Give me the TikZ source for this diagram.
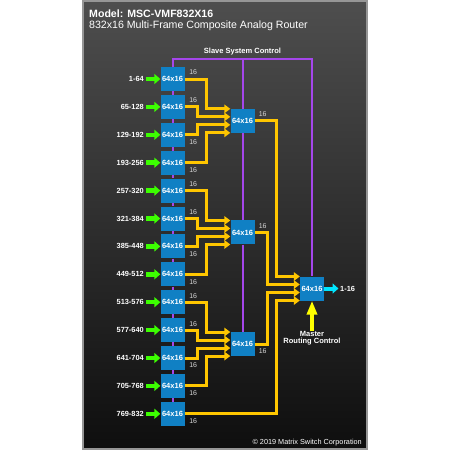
\documentclass[tikz,border=0pt]{standalone}
\usepackage{fontspec}
\setmainfont{Liberation Sans}
\usetikzlibrary{arrows.meta,calc}
\definecolor{bx}{RGB}{16,128,196}
\definecolor{yl}{RGB}{255,198,0}
\definecolor{gr}{RGB}{60,255,0}
\definecolor{cy}{RGB}{0,230,255}
\definecolor{pp}{RGB}{165,70,235}
\definecolor{my}{RGB}{255,255,0}
\definecolor{pantop}{RGB}{78,78,78}
\definecolor{panbot}{RGB}{14,14,14}
\definecolor{panbd}{RGB}{150,150,150}
\definecolor{numtx}{RGB}{215,215,215}
\tikzset{
  bxs/.style={fill=bx, minimum width=24pt, minimum height=24pt, inner sep=0pt, text=white, font=\bfseries\fontsize{7.5}{8}\selectfont},
  lbl/.style={text=white, inner sep=0pt, font=\bfseries\fontsize{7.4}{8}\selectfont},
  num/.style={text=numtx, inner sep=0pt, font=\fontsize{7}{8}\selectfont},
  ylw/.style={draw=yl, line width=3pt, -{Triangle[length=6pt,width=8.5pt]}},
  ylwn/.style={draw=yl, line width=3pt},
  garrow/.style={draw=gr, line width=4.5pt, -{Triangle[length=6pt,width=10pt]}},
  carrow/.style={draw=cy, line width=4pt, -{Triangle[length=6pt,width=10pt]}},
  marrow/.style={draw=my, line width=4pt, -{Triangle[length=14pt,width=10pt]}},
  ppl/.style={draw=pp, line width=2pt},
}
\begin{document}
\begin{tikzpicture}[x=1pt,y=-1pt]
\useasboundingbox (0,0) rectangle (450,450);
\shade[top color=pantop, bottom color=panbot] (83,1) rectangle (367,449);
\draw[panbd, line width=2pt] (83,1) rectangle (367,449);

\node[anchor=base west, text=white, inner sep=0pt, font=\bfseries\fontsize{10.6}{12}\selectfont] (title) at (89,17) {Model: MSC-VMF832X16};
\node[anchor=base west, text=white, inner sep=0pt, font=\fontsize{10.6}{12}\selectfont] (sub) at (89,28.5) {832x16 Multi-Frame Composite Analog Router};
\node[lbl, anchor=base, font=\bfseries\fontsize{7.5}{8}\selectfont] (slave) at (242.5,53.5) {Slave System Control};

% stage 1
\foreach \i/\t in {1/1-64,2/65-128,3/129-192,4/193-256,5/257-320,6/321-384,7/385-448,8/449-512,9/513-576,10/577-640,11/641-704,12/705-768,13/769-832}{
  \pgfmathsetmacro\yy{79+27.9*(\i-1)}
  \node[bxs] (s1-\i) at (172.5,\yy) {64x16};
  \coordinate (g\i) at (146,\yy);
  \draw[garrow] (g\i) -- (s1-\i.west);
  \node[lbl, anchor=east] (in\i) at (144,\yy) {\t};
}
% stage 2
\foreach \g in {1,2,3}{
  \pgfmathsetmacro\yy{79+27.9*(4*\g-4)+27.9*1.5}
  \node[bxs] (s2-\g) at (242.5,\yy) {64x16};
}
\node[bxs] (m) at (312,288.5) {64x16};

% purple control lines
\coordinate (pl) at (172.5,59);
\coordinate (pm) at (242.5,59);
\coordinate (pr) at (312,59);
\draw[ppl] (s1-1.north) -- (pl) -- (pr) -- (m.north);
\draw[ppl] (pm) -- (s2-1.north);
\draw[ppl] (s2-1.south) -- (s2-2.north);
\draw[ppl] (s2-2.south) -- (s2-3.north);
\foreach \i [evaluate=\i as \n using int(\i+1)] in {1,...,12}{
  \draw[ppl] (s1-\i.south) -- (s1-\n.north);
}

% stage 1 -> stage 2
\foreach \g in {1,2,3}{
  \pgfmathtruncatemacro\a{4*\g-3}
  \pgfmathtruncatemacro\b{4*\g-2}
  \pgfmathtruncatemacro\c{4*\g-1}
  \pgfmathtruncatemacro\d{4*\g}
  \draw[ylw] (s1-\a.east) -- ++(21.5,0) |- ($(s2-\g.west)+(0,-12)$);
  \draw[ylw] (s1-\b.east) -- ++(12.5,0) |- ($(s2-\g.west)+(0,-4)$);
  \draw[ylw] (s1-\c.east) -- ++(12.5,0) |- ($(s2-\g.west)+(0,4)$);
  \draw[ylw] (s1-\d.east) -- ++(21.5,0) |- ($(s2-\g.west)+(0,12)$);
  \node[num] (n\a) at ($(s1-\a.east)+(8.5,-6.5)$) {16};
  \node[num] (n\b) at ($(s1-\b.east)+(8.5,-6.5)$) {16};
  \node[num] (n\c) at ($(s1-\c.east)+(8.5,7.5)$) {16};
  \node[num] (n\d) at ($(s1-\d.east)+(8.5,7.5)$) {16};
}
\node[num] (n13) at ($(s1-13.east)+(8.5,7)$) {16};

% stage 2 -> master
\draw[ylw] (s2-1.east) -- ++(22,0) |- ($(m.west)+(0,-12)$);
\draw[ylw] (s2-2.east) -- ++(13,0) |- ($(m.west)+(0,-4)$);
\draw[ylw] (s2-3.east) -- ++(13,0) |- ($(m.west)+(0,4)$);
\draw[ylw] (s1-13.east) -| ($(m.west)+(-23.5,12)$) -- ($(m.west)+(0,12)$);
\node[num] (o1) at ($(s2-1.east)+(8,-6.5)$) {16};
\node[num] (o2) at ($(s2-2.east)+(8,-6.5)$) {16};
\node[num] (o3) at ($(s2-3.east)+(8,7.5)$) {16};

% master output and control
\coordinate (out) at (338.5,288.5);
\draw[carrow] (m.east) -- (out);
\node[lbl, anchor=west] (o16) at (340,288.5) {1-16};
\coordinate (mc) at (312,331);
\draw[marrow] (mc) -- (m.south);
\node[lbl, anchor=north, align=center, font=\bfseries\fontsize{7.5}{7.3}\selectfont] (mrc) at (312,331) {Master\\Routing Control};

\node[anchor=base east, text=white, inner sep=0pt, font=\fontsize{7.3}{8}\selectfont] (copy) at (362,444) {© 2019 Matrix Switch Corporation};
\end{tikzpicture}
\end{document}
